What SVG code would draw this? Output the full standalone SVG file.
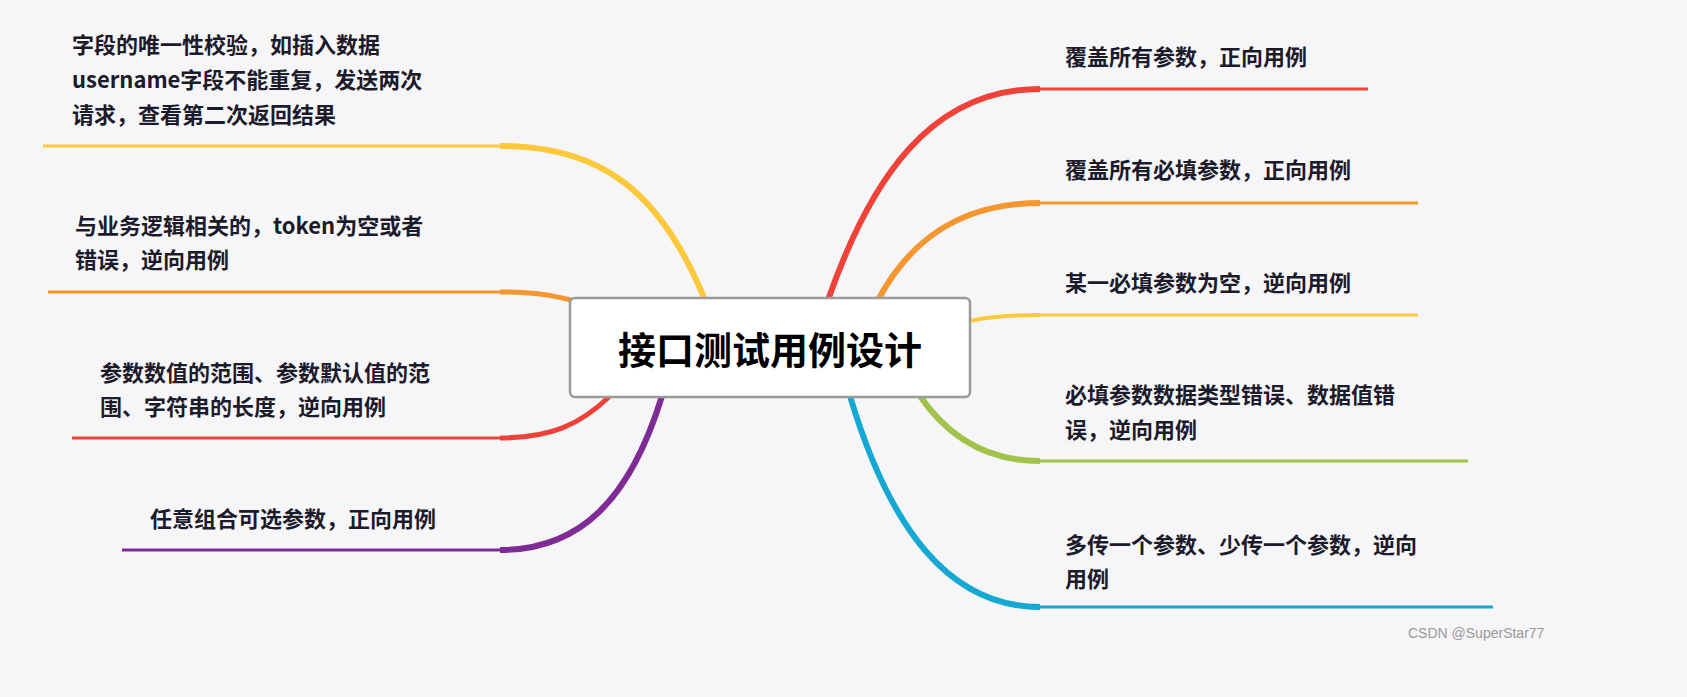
<svg xmlns="http://www.w3.org/2000/svg" width="1687" height="697" viewBox="0 0 1687 697">
<style>
.t{font-family:"Noto Sans CJK SC","Noto Sans",sans-serif;font-size:22px;font-weight:bold;fill:#1b1b2b}
.c{fill:none;stroke-linecap:butt}
.l{fill:none;stroke-width:3}
</style>
<rect width="1687" height="697" fill="#f6f6f8"/>
<g id="connectors">
<path class="c" d="M828,300 C870,180 930,89 1040,89" stroke="#ef4238" stroke-width="6"/><path class="l" d="M1030,89 H1368" stroke="#ef4238"/>
<path class="c" d="M878,300 C910,240 960,203 1040,203" stroke="#f5972f" stroke-width="6"/><path class="l" d="M1030,203 H1418" stroke="#f5972f"/>
<path class="c" d="M970,321 C990,316 1010,315 1040,315" stroke="#fcc83c" stroke-width="4"/><path class="l" d="M1030,315 H1418" stroke="#fcc83c"/>
<path class="c" d="M920,396 C950,440 990,461 1040,461" stroke="#a0c34a" stroke-width="6"/><path class="l" d="M1030,461 H1468" stroke="#a0c34a"/>
<path class="c" d="M850,396 C890,530 950,607 1040,607" stroke="#14a8d2" stroke-width="6"/><path class="l" d="M1030,607 H1493" stroke="#14a8d2"/>
<path class="c" d="M705,300 C660,190 600,146 500,146" stroke="#fcc83c" stroke-width="6"/><path class="l" d="M510,146 H43" stroke="#fcc83c"/>
<path class="c" d="M578,302 C550,294 530,292 500,292" stroke="#f5972f" stroke-width="5"/><path class="l" d="M510,292 H48" stroke="#f5972f"/>
<path class="c" d="M610,396 C580,425 550,438 500,438" stroke="#ef4238" stroke-width="5"/><path class="l" d="M510,438 H72" stroke="#ef4238"/>
<path class="c" d="M662,396 C630,500 580,550 500,550" stroke="#7f2b96" stroke-width="6"/><path class="l" d="M510,550 H122" stroke="#7f2b96"/>
</g>
<g id="center"><rect x="570" y="298" width="400" height="99" rx="5" fill="#fff" stroke="#9a9a9a" stroke-width="2.5"/>
<text x="770" y="364" text-anchor="middle" style="font-family:'Noto Sans CJK SC',sans-serif;font-size:38px;font-weight:bold;fill:#000">接口测试用例设计</text></g>
<g id="r1"><text class="t" x="1065" y="65">覆盖所有参数，正向用例</text></g>
<g id="r2"><text class="t" x="1065" y="178">覆盖所有必填参数，正向用例</text></g>
<g id="r3"><text class="t" x="1065" y="291">某一必填参数为空，逆向用例</text></g>
<g id="r4"><text class="t" x="1065" y="403">必填参数数据类型错误、数据值错</text><text class="t" x="1065" y="438">误，逆向用例</text></g>
<g id="r5"><text class="t" x="1065" y="553">多传一个参数、少传一个参数，逆向</text><text class="t" x="1065" y="587">用例</text></g>
<g id="l1"><text class="t" x="72" y="53">字段的唯一性校验，如插入数据</text><text class="t" x="72" y="88">username字段不能重复，发送两次</text><text class="t" x="72" y="123">请求，查看第二次返回结果</text></g>
<g id="l2"><text class="t" x="75" y="234">与业务逻辑相关的，token为空或者</text><text class="t" x="75" y="268">错误，逆向用例</text></g>
<g id="l3"><text class="t" x="100" y="381">参数数值的范围、参数默认值的范</text><text class="t" x="100" y="415">围、字符串的长度，逆向用例</text></g>
<g id="l4"><text class="t" x="150" y="527">任意组合可选参数，正向用例</text></g>
<text x="1408" y="638" style="font-family:'Liberation Sans',sans-serif;font-size:14px;fill:#999">CSDN @SuperStar77</text>
</svg>
